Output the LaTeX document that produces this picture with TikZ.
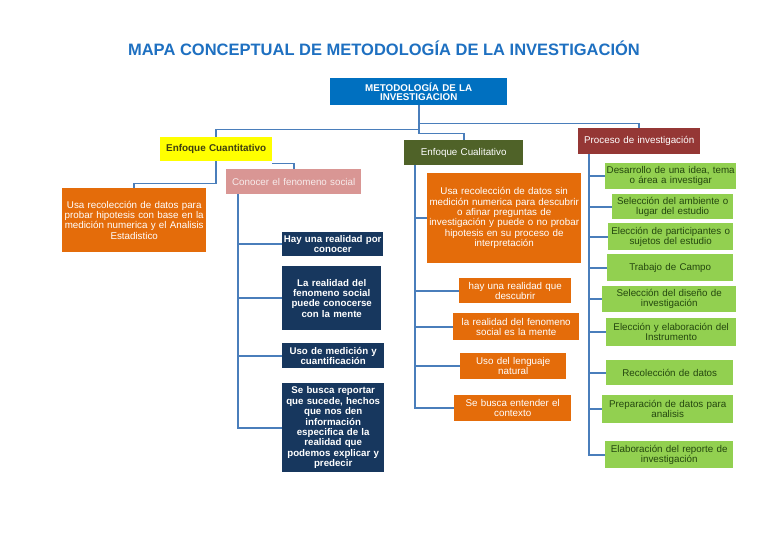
\documentclass[tikz,border=0pt]{standalone}
\usepackage{fontspec}
\setmainfont{Liberation Sans}
\definecolor{titleblue}{HTML}{1E70C1}
\definecolor{rootblue}{HTML}{0070C0}
\definecolor{connblue}{HTML}{4A7EBB}
\definecolor{cuantiyellow}{HTML}{FFFF00}
\definecolor{cuantitext}{HTML}{3F3F10}
\definecolor{boxorange}{HTML}{E46C0A}
\definecolor{boxpink}{HTML}{D99694}
\definecolor{pinktext}{HTML}{F7ECEC}
\definecolor{boxnavy}{HTML}{17375E}
\definecolor{boxolive}{HTML}{4F6228}
\definecolor{boxred}{HTML}{953735}
\definecolor{boxgreen}{HTML}{92D050}
\definecolor{greentext}{HTML}{24470F}
\tikzset{
  conn/.style={draw=connblue, line width=1.8pt},
  mapbox/.style={anchor=north west, inner sep=1pt, align=center,
    font=\fontsize{9.8}{10.4}\selectfont},
  cuantbox/.style={mapbox, fill=cuantiyellow, text=cuantitext,
    font=\fontsize{9.9}{10.4}\selectfont\bfseries},
  orangebox/.style={mapbox, fill=boxorange, text=white},
  pinkbox/.style={mapbox, fill=boxpink, text=pinktext},
  navybox/.style={mapbox, fill=boxnavy, text=white,
    font=\fontsize{9.7}{10.4}\selectfont\bfseries},
  olivebox/.style={mapbox, fill=boxolive, text=white},
  redbox/.style={mapbox, fill=boxred, text=white},
  greenbox/.style={mapbox, fill=boxgreen, text=greentext},
}
\begin{document}
\begin{tikzpicture}[x=1pt, y=-1pt]
\useasboundingbox (0,0) rectangle (768,543);
\fill[white] (0,0) rectangle (768,543);

% Title
\node (title) at (384,48) {\fontsize{16.5}{18}\selectfont\bfseries\color{titleblue}MAPA CONCEPTUAL DE METODOLOGÍA DE LA INVESTIGACIÓN};

% Root
\node[mapbox, fill=rootblue, text=white, minimum width=177pt, minimum height=27pt, text width=173pt,
  font=\fontsize{9.8}{9.6}\selectfont\bfseries] (root) at (330,78) {METODOLOGÍA DE LA\\INVESTIGACION};

% Enfoque Cuantitativo
\node[cuantbox, minimum width=112pt, minimum height=24pt, text width=108pt] (cuanti) at (160,137) {Enfoque Cuantitativo};
\node[orangebox, minimum width=144pt, minimum height=64pt, text width=142pt] (usaq) at (62,188)
  {Usa recolección de datos para\\probar hipotesis con base en la\\medición numerica y el Analisis\\Estadistico};
\node[pinkbox, minimum width=135pt, minimum height=25pt, text width=131pt] (conocer) at (226,169) {Conocer el fenomeno social};
\node[navybox, minimum width=99pt, minimum height=24pt, text width=99pt] (hay) at (282,232) {Hay una realidad por\\conocer};
\node[navybox, minimum width=99pt, minimum height=64pt, text width=95pt] (lareal) at (282,266)
  {La realidad del\\fenomeno social\\puede conocerse\\con la mente};
\node[navybox, minimum width=102pt, minimum height=25pt, text width=100pt] (uso) at (282,343) {Uso de medición y\\cuantificación};
\node[navybox, minimum width=100pt, minimum height=89pt, text width=100pt] (sebusca) at (282,383)
  {Se busca reportar\\que sucede, hechos\\que nos den\\información\\especifica de la\\realidad que\\podemos explicar y\\predecir};

% Enfoque Cualitativo
\node[olivebox, minimum width=119pt, minimum height=25pt, text width=115pt] (cuali) at (404,140) {Enfoque Cualitativo};
\node[orangebox, minimum width=154pt, minimum height=90pt, text width=152pt] (usal) at (427,173)
  {Usa recolección de datos sin\\medición numerica para descubrir\\o afinar preguntas de\\investigación y puede o no probar\\hipotesis en su proceso de\\interpretación};
\node[orangebox, minimum width=112pt, minimum height=25pt, text width=108pt] (hayd) at (459,278) {hay una realidad que\\descubrir};
\node[orangebox, minimum width=126pt, minimum height=27pt, text width=122pt] (lrf) at (453,313) {la realidad del fenomeno\\social es la mente};
\node[orangebox, minimum width=106pt, minimum height=26pt, text width=102pt] (lengua) at (460,353) {Uso del lenguaje\\natural};
\node[orangebox, minimum width=117pt, minimum height=26pt, text width=113pt] (contexto) at (454,395) {Se busca entender el\\contexto};

% Proceso de investigacion
\node[redbox, minimum width=122pt, minimum height=26pt, text width=118pt] (proceso) at (578,128) {Proceso de investigación};
\node[greenbox, minimum width=129pt, minimum height=26pt, text width=129pt] (p1) at (605,163) {Desarrollo de una idea, tema\\o área a investigar};
\node[greenbox, minimum width=121pt, minimum height=25pt, text width=119pt] (p2) at (612,194) {Selección del ambiente o\\lugar del estudio};
\node[greenbox, minimum width=125pt, minimum height=27pt, text width=123pt] (p3) at (608,223) {Elección de participantes o\\sujetos del estudio};
\node[greenbox, minimum width=126pt, minimum height=27pt, text width=122pt] (p4) at (607,254) {Trabajo de Campo};
\node[greenbox, minimum width=134pt, minimum height=26pt, text width=130pt] (p5) at (602,286) {Selección del diseño de\\investigación};
\node[greenbox, minimum width=130pt, minimum height=28pt, text width=126pt] (p6) at (606,318) {Elección y elaboración del\\Instrumento};
\node[greenbox, minimum width=127pt, minimum height=25pt, text width=123pt] (p7) at (606,360) {Recolección de datos};
\node[greenbox, minimum width=131pt, minimum height=28pt, text width=127pt] (p8) at (602,395) {Preparación de datos para\\analisis};
\node[greenbox, minimum width=128pt, minimum height=27pt, text width=124pt] (p9) at (605,441) {Elaboración del reporte de\\investigación};

% Drawing connectors from root
\draw[conn] (root.south) -- ++(0,18) -| (proceso.north);
\draw[conn] (root.south) -- ++(0,24) -| (cuanti.north);
\draw[conn] (root.south) -- ++(0,28) -| (cuali.north);

% Drawing connectors of Enfoque Cuantitativo
\draw[conn] (cuanti.south) -- ++(0,22) -| (usaq.north);
\draw[conn] ([yshift=-2pt]cuanti.south east) -| (conocer.north);
\coordinate (qtop) at ([xshift=12pt]conocer.south west);
\draw[conn] (qtop) |- (sebusca.west);
\foreach \n in {hay,lareal,uso}
  \draw[conn] (qtop |- \n.west) -- (\n.west);

% Drawing connectors of Enfoque Cualitativo
\coordinate (ltop) at ([xshift=11pt]cuali.south west);
\draw[conn] (ltop) |- (contexto.west);
\foreach \n in {usal,hayd,lrf,lengua}
  \draw[conn] (ltop |- \n.west) -- (\n.west);

% Drawing connectors of Proceso de investigacion
\coordinate (ptop) at ([xshift=11pt]proceso.south west);
\draw[conn] (ptop) |- (p9.west);
\foreach \n in {p1,p2,p3,p4,p5,p6,p7,p8}
  \draw[conn] (ptop |- \n.west) -- (\n.west);
\end{tikzpicture}
\end{document}
